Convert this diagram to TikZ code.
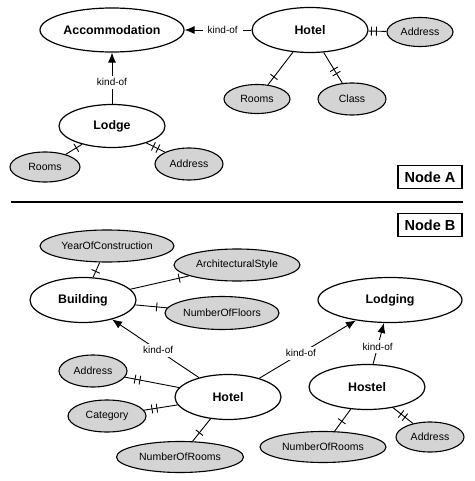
\documentclass[tikz,border=0pt]{standalone}
\usepackage{fontspec}
\setmainfont{Liberation Sans}
\usetikzlibrary{shapes.geometric,arrows.meta,decorations.markings}
\definecolor{attrgray}{RGB}{212,212,212}
\begin{document}
\begin{tikzpicture}[x=1pt,y=-1pt,
  ent/.style={ellipse, draw, line width=1.2pt, fill=white, inner sep=0pt, font=\fontsize{12.4}{14}\selectfont\bfseries},
  attr/.style={ellipse, draw, line width=1.1pt, fill=attrgray, inner sep=0pt, font=\fontsize{10.5}{12}\selectfont},
  conn/.style={line width=0.9pt},
  one/.style={postaction={decorate, decoration={markings, mark=at position #1 with {\draw[line width=0.9pt] (0,-4.5) -- (0,4.5);}}}},
  two/.style={postaction={decorate, decoration={markings, mark=at position #1 with {\draw[line width=0.9pt] (-2.5,-4.5) -- (-2.5,4.5) (2.5,-4.5) -- (2.5,4.5);}}}},
  kind/.style={line width=0.9pt, -{Latex[length=10pt,width=8pt]}},
  klabel/.style={fill=white, inner xsep=5pt, inner ysep=3pt, font=\fontsize{10}{12}\selectfont},
  boxlabel/.style={draw, line width=1.2pt, minimum width=64, minimum height=23, inner sep=0pt, font=\fontsize{14.5}{16}\selectfont\bfseries}
]
\useasboundingbox (0,0) rectangle (474,481);

% ---- Node A ----
\node[ent, minimum width=144, minimum height=44] (accom) at (112,30) {Accommodation};
\node[ent, minimum width=116, minimum height=45] (hotelA) at (310,30) {Hotel};
\node[attr, minimum width=66, minimum height=29] (addrA) at (420,32) {Address};
\node[attr, minimum width=66, minimum height=29] (roomsA) at (257,99) {Rooms};
\node[attr, minimum width=68, minimum height=32] (classA) at (352,99) {Class};
\node[ent, minimum width=106, minimum height=43] (lodge) at (112,126) {Lodge};
\node[attr, minimum width=70, minimum height=30] (roomsL) at (45,167) {Rooms};
\node[attr, minimum width=68, minimum height=32] (addrL) at (189,164) {Address};
\node[boxlabel] (nodeA) at (430,177) {Node A};

\draw[kind] (hotelA) -- node[klabel, pos=0.43] {kind-of} (accom);
\draw[kind] (lodge) -- node[klabel, pos=0.42] {kind-of} (accom);
\draw[conn, two=0.3] (hotelA) -- (addrA);
\draw[conn, one=0.76] (hotelA) -- (roomsA);
\draw[conn, two=0.62] (hotelA) -- (classA);
\draw[conn, one=0.35] (lodge) -- (roomsL);
\draw[conn, two=0.5] (lodge) -- (addrL);

% ---- separator ----
\coordinate (sepL) at (11,202);
\coordinate (sepR) at (463,202);
\draw[line width=1.5pt] (sepL) -- (sepR);

% ---- Node B ----
\node[boxlabel] (nodeB) at (430,225) {Node B};
\node[attr, minimum width=134, minimum height=32] (year) at (107,246) {YearOfConstruction};
\node[ent, minimum width=106, minimum height=45] (building) at (83,300) {Building};
\node[attr, minimum width=126, minimum height=32] (arch) at (237,265) {ArchitecturalStyle};
\node[attr, minimum width=114, minimum height=33] (floors) at (222,313) {NumberOfFloors};
\node[ent, minimum width=144, minimum height=45] (lodging) at (390,300) {Lodging};
\node[ent, minimum width=106, minimum height=45] (hotelB) at (228,397) {Hotel};
\node[ent, minimum width=116, minimum height=45] (hostel) at (367,387) {Hostel};
\node[attr, minimum width=68, minimum height=32] (addrB) at (93,371) {Address};
\node[attr, minimum width=78, minimum height=32] (cat) at (107,416) {Category};
\node[attr, minimum width=127, minimum height=31] (nrB) at (180,457) {NumberOfRooms};
\node[attr, minimum width=126, minimum height=31] (nrH) at (323,447) {NumberOfRooms};
\node[attr, minimum width=68, minimum height=30] (addrH) at (430,437) {Address};

\draw[kind] (hotelB) -- node[klabel, pos=0.47] {kind-of} (building);
\draw[kind] (hotelB) -- node[klabel, pos=0.43] {kind-of} (lodging);
\draw[kind] (hostel) -- node[klabel, pos=0.42] {kind-of} (lodging);
\draw[conn, one=0.4] (building) -- (year);
\draw[conn, one=0.83] (building) -- (arch);
\draw[conn, one=0.67] (building) -- (floors);
\draw[conn, two=0.77] (hotelB) -- (addrB);
\draw[conn, two=0.69] (hotelB) -- (cat);
\draw[conn, one=0.62] (hotelB) -- (nrB);
\draw[conn, one=0.55] (hostel) -- (nrH);
\draw[conn, two=0.5] (hostel) -- (addrH);
\end{tikzpicture}
\end{document}
